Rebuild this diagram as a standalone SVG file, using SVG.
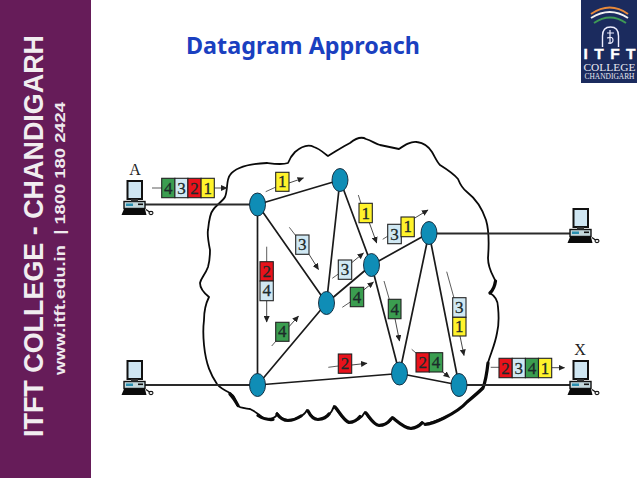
<svg xmlns="http://www.w3.org/2000/svg" width="638" height="478" viewBox="0 0 638 478">
<style>
.lnk{stroke:#1a1a1a;stroke-width:1.7;fill:none}
.wire{stroke:#2a2a2a;stroke-width:1.8;fill:none}
.ldr{stroke:#333;stroke-width:.8;fill:none}
.arr{stroke:#333;stroke-width:.9;fill:none;marker-end:url(#ah)}
.rt{fill:#0f8db6;stroke:#123;stroke-width:.9}
.c{stroke:#222;stroke-width:1.1}
.g{fill:#3b9d50}.b{fill:#d0e8f3}.r{fill:#e9121b}.y{fill:#fff32b}
.d{font-family:"Liberation Serif",serif;font-size:17px;fill:#1c2a2a;stroke:#1c2a2a;stroke-width:.3;text-anchor:middle}
.lab{font-family:"Liberation Serif",serif;font-size:16px;fill:#222;text-anchor:middle}
</style>
<defs>
<marker id="ah" markerUnits="userSpaceOnUse" markerWidth="7" markerHeight="6" refX="6" refY="3" orient="auto"><path d="M0 0L6.500 3L0 6Z" fill="#222"/></marker>
<g id="pc">
<rect x="127.500" y="181" width="14.500" height="18" fill="#cfe6f2" stroke="#111" stroke-width="2"/>
<rect x="124" y="201.500" width="21" height="7" fill="#c4d8dc" stroke="#111" stroke-width="1.400"/>
<rect x="126" y="203.500" width="7" height="2.500" fill="#2a8fb0"/>
<rect x="138" y="203.500" width="5" height="1.600" fill="#111"/>
<path d="M131 199h7v2.500h-7Z" fill="#333"/>
<path d="M124 209h21l1.500 6h-25Z" fill="#0b0b0b"/>
<path d="M146 209.500l3.500 2.500" stroke="#111" stroke-width="1.200" fill="none"/>
<ellipse cx="151" cy="213" rx="2" ry="1.600" fill="#fff" stroke="#111" stroke-width="1.100"/>
</g>
</defs>
<rect width="638" height="478" fill="#fff"/>
<g id="sidebar">
<rect width="91" height="478" fill="#661c59"/>
<text transform="translate(43 437) rotate(-90)" font-family="'Liberation Sans',sans-serif" font-weight="bold" font-size="27" fill="#f1edf0" textLength="402" lengthAdjust="spacingAndGlyphs">ITFT COLLEGE - CHANDIGARH</text>
<text transform="translate(65 375) rotate(-90)" font-family="'Liberation Sans',sans-serif" font-weight="bold" font-size="15.500" fill="#efe9ee" textLength="273" lengthAdjust="spacingAndGlyphs" xml:space="preserve">www.itft.edu.in  | 1800 180 2424</text>
</g>
<text id="title" x="186" y="54" font-family="'Noto Sans',sans-serif" font-weight="bold" font-size="24" fill="#1a40c0" textLength="234" lengthAdjust="spacingAndGlyphs">Datagram Approach</text>
<g id="logo">
<rect x="581" y="0" width="56" height="83" fill="#1b2b5e"/>
<path d="M591 14Q610 1 628 14" fill="none" stroke="#e8893a" stroke-width="2"/>
<path d="M591 18Q610 6 628 18" fill="none" stroke="#f2f2f2" stroke-width="2"/>
<path d="M594 23Q610 12 626 23" fill="none" stroke="#3f9a55" stroke-width="2"/>
<path d="M602.500 47V36Q602.500 27 610.500 27Q618.500 27 618.500 36V47" fill="none" stroke="#eef" stroke-width="1.400"/>
<path d="M607 33h7M610 30v14M607 38q6-2 6 2t-5 3" fill="none" stroke="#eef" stroke-width="1.200"/>
<text x="609.500" y="59" font-family="'Liberation Sans',sans-serif" font-weight="bold" font-size="15.500" fill="#fff" stroke="#fff" stroke-width=".4" text-anchor="middle" textLength="52" lengthAdjust="spacing">ITFT</text>
<text x="609.500" y="71" font-family="'Liberation Serif',serif" font-size="11" fill="#e8e8f0" text-anchor="middle" textLength="52" lengthAdjust="spacingAndGlyphs">COLLEGE</text>
<text x="609.500" y="78.500" font-family="'Liberation Serif',serif" font-size="7.500" fill="#e8e8f0" text-anchor="middle" textLength="50" lengthAdjust="spacingAndGlyphs">CHANDIGARH</text>
</g>
<g id="cloud" fill="none" stroke="#0a0a0a" stroke-linejoin="round" stroke-linecap="round">
<path stroke-width="1.800" d="M225 197C228 190 226 180 230 175C235 168 245 164 267 163C275 164 282 165 288 163C290 158 292 155 295 152C302 146 308 144 314 147C320 149 325 154 328 156C335 152 342 147 350 143C355 139 361 136 366 139C372 141 376 144 380 145L399 149C405 145 411 141 417 142C424 143 429 147 432 152C435 157 437 162 440 165C448 170 454 174 458 179C460 184 463 189 467 192C476 199 482 208 486 220C489 230 489 245 488 258C488 268 492 274 495 280C495 285 493 290 490 293C495 296 498 301 498 307C499 317 499 325 497 333C495 345 490 355 488 363C487 372 486 380 483 387C478 392 473 397 467 402C460 410 452 414 443 418C436 421 430 423 425 424L422 422C418 427 414 428 410 428C403 427 397 421 392 417C391 423 384 425 378 425C373 424 368 417 365 412C362 418 356 422 348 422C342 419 338 411 334 406C332 413 326 419 317 419C312 418 309 413 307 410C304 416 296 420 287 420C282 419 279 416 277 413C277 418 270 420 263 418C260 415 256 412 250 409C243 408 239 408 237 405C236 399 233 395 230 393C224 390 220 388 217 384C211 375 206 365 204 345C203 335 203 328 204 320C204 310 206 303 209 297C204 293 200 288 200 283C201 278 205 275 208 267C210 260 210 255 210 250C208 240 207 235 208 230C209 220 210 213 213 210C216 205 222 202 225 197Z"/>
<path stroke-width="3.200" d="M230 394C233 397 236 402 238 405.500M258 415.500C262 418 268 420 273 419.500M277 414C280 418 283 420.500 288 420.500C293 420.500 298 418 301 416M308 411C310 415 313 419.500 318 419.500C323 419 327 417 329 414M335 407C339 411 343 420 349 422.500C354 422.500 358 419 360 416.500M366 413C370 418 374 425 379 425.500C383 425.500 388 423 391 419M393 418C398 422 404 428 411 428.500C415 428 419 426 422 423M425 424.500C432 424 438 421 444 418C452 414 460 410 467 402C473 397 479 392 483 388C486 380 487 372 488 363M490 293C493 290 495 285 495.500 281"/>
</g>
<g id="connectors">
<path class="wire" d="M143 204.500H257.500M145 385H257.500M429 233.500H570M459 385H572"/>
<path class="lnk" d="M257.500 204.500L340 180M257.500 204.500L326.500 303M257.500 204.500V385M340 180L326.500 303M340 180L371.500 265M371.500 265L429 233M371.500 265L326.500 303M371.500 265L399.500 373.500M429 233L399.500 373.500M429 233L459 385M326.500 303L257.500 385M257.500 385L399.500 373.500M399.500 373.500L459 385"/>
<path class="ldr" d="M152 188H162M265.700 191.700L276 187M289.300 227.300L296 236M266.700 246.700V262M271.700 346L276 341M358.300 195L361 203.500M382.700 239.300L388 236M332.300 278.300L338.300 274M342.300 307.300L350.300 302M384 281L389.500 300M446.700 271.700L454 298M411.700 349.300L416 353M328.300 367.300L338.300 366M490.700 367.300H499"/>
<path class="arr" d="M214.500 188H227"/>
<path class="arr" d="M289 183L303.500 178"/>
<path class="arr" d="M309 254.300L318.500 269.500"/>
<path class="arr" d="M266.700 300.700V322"/>
<path class="arr" d="M289 326.700L298.500 316"/>
<path class="arr" d="M369.300 222.700L376.700 243"/>
<path class="arr" d="M414.300 218.300L428 210"/>
<path class="arr" d="M351.700 262.700L363.500 253"/>
<path class="arr" d="M363.700 290L373.500 282"/>
<path class="arr" d="M395 318.700L399.500 341"/>
<path class="arr" d="M460 336L464 355.500"/>
<path class="arr" d="M442.700 372L449.500 377.500"/>
<path class="arr" d="M351.700 365L367 363.300"/>
<path class="arr" d="M551.700 367.700H564.500"/>
</g>
<g id="packet-a">
<rect class="c g" x="161.700" y="178.300" width="13.200" height="19.400"/><rect class="c b" x="174.900" y="178.300" width="13" height="19.400"/><rect class="c r" x="187.900" y="178.300" width="13.200" height="19.400"/><rect class="c y" x="201.100" y="178.300" width="13.200" height="19.400"/>
<text class="d" x="168.300" y="193.500">4</text><text class="d" x="181.400" y="193.500">3</text><text class="d" x="194.500" y="193.500">2</text><text class="d" x="207.700" y="193.500">1</text>
</g>
<g id="packet-x">
<rect class="c r" x="499" y="358.300" width="13.200" height="19.400"/><rect class="c b" x="512.200" y="358.300" width="13.200" height="19.400"/><rect class="c g" x="525.400" y="358.300" width="13.100" height="19.400"/><rect class="c y" x="538.500" y="358.300" width="13.200" height="19.400"/>
<text class="d" x="505.600" y="373.500">2</text><text class="d" x="518.800" y="373.500">3</text><text class="d" x="532" y="373.500">4</text><text class="d" x="545.100" y="373.500">1</text>
</g>
<g id="pkt-1a"><rect class="c y" x="275.700" y="172.300" width="13.300" height="19"/><text class="d" x="282.300" y="187.300">1</text></g>
<g id="pkt-3a"><rect class="c b" x="295.700" y="235" width="13.300" height="19.300"/><text class="d" x="302.300" y="250">3</text></g>
<g id="pkt-24a"><rect class="c r" x="260" y="261.700" width="13.300" height="19.300"/><rect class="c b" x="260" y="281" width="13.300" height="19.700"/><text class="d" x="266.700" y="276.700">2</text><text class="d" x="266.700" y="296.200">4</text></g>
<g id="pkt-4a"><rect class="c g" x="275.700" y="322.300" width="13.300" height="19"/><text class="d" x="282.300" y="337.300">4</text></g>
<g id="pkt-1b"><rect class="c y" x="359" y="203.300" width="13.300" height="19.400"/><text class="d" x="365.700" y="218.500">1</text></g>
<g id="pkt-31"><rect class="c b" x="387.700" y="224.300" width="13.600" height="19.400"/><rect class="c y" x="401" y="217" width="13.300" height="19.700"/><text class="d" x="394.500" y="239.500">3</text><text class="d" x="407.700" y="232">1</text></g>
<g id="pkt-3b"><rect class="c b" x="338.300" y="260" width="13.400" height="19.300"/><text class="d" x="345" y="275">3</text></g>
<g id="pkt-4b"><rect class="c g" x="350.300" y="287.300" width="13.400" height="19.400"/><text class="d" x="357" y="302.500">4</text></g>
<g id="pkt-4c"><rect class="c g" x="388.300" y="299.300" width="12.700" height="19.400"/><text class="d" x="394.700" y="314.500">4</text></g>
<g id="pkt-31b"><rect class="c b" x="452.700" y="297.700" width="13.300" height="19.600"/><rect class="c y" x="452.700" y="317.300" width="13.300" height="18.700"/><text class="d" x="459.300" y="313">3</text><text class="d" x="459.300" y="332">1</text></g>
<g id="pkt-24b"><rect class="c r" x="416" y="352.700" width="13.300" height="19.300"/><rect class="c g" x="429.300" y="352.700" width="13.400" height="19.300"/><text class="d" x="422.700" y="367.800">2</text><text class="d" x="436" y="367.800">4</text></g>
<g id="pkt-2c"><rect class="c r" x="338.300" y="354" width="13.400" height="19.300"/><text class="d" x="345" y="369">2</text></g>
<g id="router-1"><ellipse class="rt" cx="257.500" cy="204.500" rx="8" ry="11.500"/></g>
<g id="router-2"><ellipse class="rt" cx="340" cy="180" rx="8" ry="11.500"/></g>
<g id="router-3"><ellipse class="rt" cx="371.500" cy="265" rx="8" ry="11.500"/></g>
<g id="router-4"><ellipse class="rt" cx="429" cy="233" rx="8" ry="11.500"/></g>
<g id="router-5"><ellipse class="rt" cx="326.500" cy="303" rx="8" ry="11.500"/></g>
<g id="router-6"><ellipse class="rt" cx="257.500" cy="385" rx="8" ry="11.500"/></g>
<g id="router-7"><ellipse class="rt" cx="399.500" cy="373.500" rx="8" ry="11.500"/></g>
<g id="router-8"><ellipse class="rt" cx="459" cy="385" rx="8" ry="11.500"/></g>
<g id="host-a"><use href="#pc"/><text class="lab" x="135" y="175">A</text></g>
<g id="host-b"><use href="#pc" x="0" y="180"/></g>
<g id="host-c"><use href="#pc" x="446" y="28"/></g>
<g id="host-x"><use href="#pc" x="446" y="180"/><text class="lab" x="580" y="355">X</text></g>
</svg>
